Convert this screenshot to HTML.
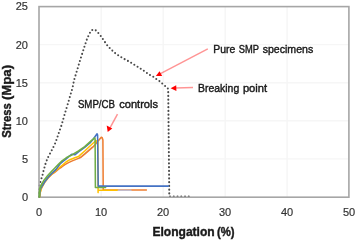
<!DOCTYPE html>
<html><head><meta charset="utf-8"><title>Stress vs Elongation</title>
<style>
html,body{margin:0;padding:0;background:#fff;width:357px;height:243px;overflow:hidden}
svg{display:block}
text{font-family:"Liberation Sans",Arial,sans-serif}
.tk{font-size:11px;fill:#333;stroke:#333;stroke-width:0.18px}
.an{font-size:11.3px;fill:#1a1a1a;stroke:#1a1a1a;stroke-width:0.42px}
.ti{font-size:11.9px;font-weight:bold;fill:#1a1a1a;stroke:#1a1a1a;stroke-width:0.4px}
</style></head>
<body>
<svg width="357" height="243" viewBox="0 0 357 243">
<rect width="357" height="243" fill="#fff"/>
<!-- gridlines -->
<g stroke="#f6f6f6" stroke-width="1.4" fill="none">
<path d="M39,44.6H349M39,82.7H349M39,120.8H349M39,158.9H349"/>
<path d="M101.2,6.6V197M163.2,6.6V197M225.2,6.6V197M287.1,6.6V197"/>
</g>

<!-- pure SMP dotted -->
<path fill="none" stroke="#4a4a4a" stroke-width="2.05" stroke-linecap="round" stroke-linejoin="round" stroke-dasharray="0 3.75"
d="M39,196.8L39.2,190L39.4,186L40.4,181.9L41.5,178.4L42.6,174.8L43.5,170.9L44.6,167L45.7,163.1L46.9,160L48.4,156.5L50.3,153.1L52,149.8L53.7,146.4L55.4,142.9L57.9,135.7L59.1,132L61.6,125L63.7,117.6L65.9,110.1L68.2,102.7L70.3,95.3L72.5,88L74.1,80L76.2,73.2L78.4,65.9L80.6,58.6L83,51.2L84.8,45.5L86.6,40.1L88,36.7L89.7,33.2L91.9,30.1L93.6,29.6L95.3,29.9L98,32.7L100.6,35.7L102.7,38.8L104.9,42L107.1,45.1L109.6,47.9L112.2,50.5L115.1,53.1L118.1,55.3L121.5,57.4L124.9,59.3L128.3,61.1L131.5,63L134.8,65.1L137.9,66.9L141.3,69.1L144.4,71.2L147.7,73.5L151,75.8L153.9,77.1L156.9,79.6L159.9,81.4L162.7,84L165.5,86.3L168.2,88.9L169.3,196.4L189.5,196.4"/>

<!-- plot border -->
<rect x="39" y="6.6" width="309.9" height="190.6" fill="none" stroke="#a6a6a6" stroke-width="1.6"/>
<!-- colored curves -->
<g fill="none" stroke-width="1.55" stroke-linejoin="round" stroke-linecap="round">
<path stroke="#c4b8c4" stroke-width="1.2" d="M79,158L81.5,156.6L83.4,154.8L88,150.8L92,147.3"/>
<path stroke="#ED7D31" d="M39.6,197L40.2,192.5L41.1,188.9L42.5,186.1L44.7,182.2L48.4,177.6L52.1,174L54.4,172.6L58.8,168.9L61.7,167L64.9,164.6L68.5,162.6L72.3,160.9L78.5,158.4L81,157.2L84.7,154.1L89.6,149.8L93.3,146.7L95.6,144L98.7,140.3L101.3,137.3L102.2,137.8L102.9,140L103.2,189.9H146.4"/>
<path stroke="#FFC000" d="M39.6,197L40.2,192.5L41.1,188.8L42.5,186L44.7,182.1L48.4,177.4L52.1,173.6L55.9,170.4L58.8,168L62.5,165L66,162L69.9,159.7L74.8,157.8L78.5,156.6L80.3,154.9L84.7,151L90,146L93.3,143L96,140.7L97.9,142L98.1,192.6M98.1,190.2H118.3"/>
<path stroke="#c3bccb" d="M118.3,190.2H131"/>
<path stroke="#4472C4" d="M39.5,197L39.8,192.5L40.6,188.9L42.2,186L44.7,181.8L48.4,177L52.1,173.2L55.9,169.6L60,164L63,161.4L66.2,159L69,156.4L71.7,154.3L74.8,154.8L78.5,151.8L84.7,147.3L90,143L93.5,138.8L97.1,133.8L97.6,135L98.2,186.1H168.4"/>
<path stroke="#70AD47" d="M39.4,197L39.5,192L39.9,188.7L40.7,186.2L41.9,183.8L44,180.2L47.7,175.6L51.4,171.6L55.1,167.8L58.4,164.4L62,160.8L66.2,157.8L72.3,154.7L78.5,151L84.7,146.7L90.8,141.2L94.7,137.8L95.1,139L95.4,187.4H105.6"/>
<path stroke="#70AD47" d="M39.4,197L39.5,192L40,188.5L40.9,185.8L42.1,183.6"/>
</g>


<!-- arrows -->
<g stroke="#ff0000" stroke-opacity="0.42" stroke-width="1.5" fill="none">
<path d="M207.8,48.9L160,73.8"/>
<path d="M193,87.6L175,88.1"/>
<path d="M117.5,114.2L110,127.8"/>
</g>
<g fill="#ff0000">
<path d="M155.9,76.1L159.5,71.3L162.2,76Z"/>
<path d="M170.6,88.2L176.2,85.3L176.4,90.9Z"/>
<path d="M107.7,131.9L106.7,125.6L112.3,128.6Z"/>
</g>

<!-- tick labels -->
<g class="tk" text-anchor="end">
<text x="28" y="10.4">25</text>
<text x="28" y="48.5">20</text>
<text x="28" y="86.6">15</text>
<text x="28" y="124.7">10</text>
<text x="28" y="162.8">5</text>
<text x="28" y="200.9">0</text>
</g>
<g class="tk" text-anchor="middle">
<text x="39" y="216.1">0</text>
<text x="101" y="216.1">10</text>
<text x="163" y="216.1">20</text>
<text x="225" y="216.1">30</text>
<text x="287" y="216.1">40</text>
<text x="349" y="216.1">50</text>
</g>

<!-- annotations -->
<g class="an">
<text x="213.2" y="52.9" textLength="22" lengthAdjust="spacingAndGlyphs">Pure</text>
<text x="238.7" y="52.9" textLength="20.2" lengthAdjust="spacingAndGlyphs">SMP</text>
<text x="262.7" y="52.9" textLength="50.5" lengthAdjust="spacingAndGlyphs">specimens</text>
<text x="198.1" y="91.6" textLength="41.1" lengthAdjust="spacingAndGlyphs">Breaking</text>
<text x="242.9" y="91.6" textLength="24.3" lengthAdjust="spacingAndGlyphs">point</text>
<text x="77.9" y="107.6" textLength="37.1" lengthAdjust="spacingAndGlyphs">SMP/CB</text>
<text x="119.2" y="107.6" textLength="38.8" lengthAdjust="spacingAndGlyphs">controls</text>
</g>

<!-- axis titles -->
<g class="ti">
<text x="152.4" y="235.8" textLength="62.3" lengthAdjust="spacingAndGlyphs">Elongation</text>
<text x="217" y="235.8" textLength="17.6" lengthAdjust="spacingAndGlyphs">(%)</text>
<g transform="translate(11.3,0) rotate(-90)">
<text x="-137.7" y="0" textLength="34.5" lengthAdjust="spacingAndGlyphs">Stress</text>
<text x="-100.1" y="0" textLength="35.2" lengthAdjust="spacingAndGlyphs">(Mpa)</text>
</g>
</g>
</svg>
</body></html>
